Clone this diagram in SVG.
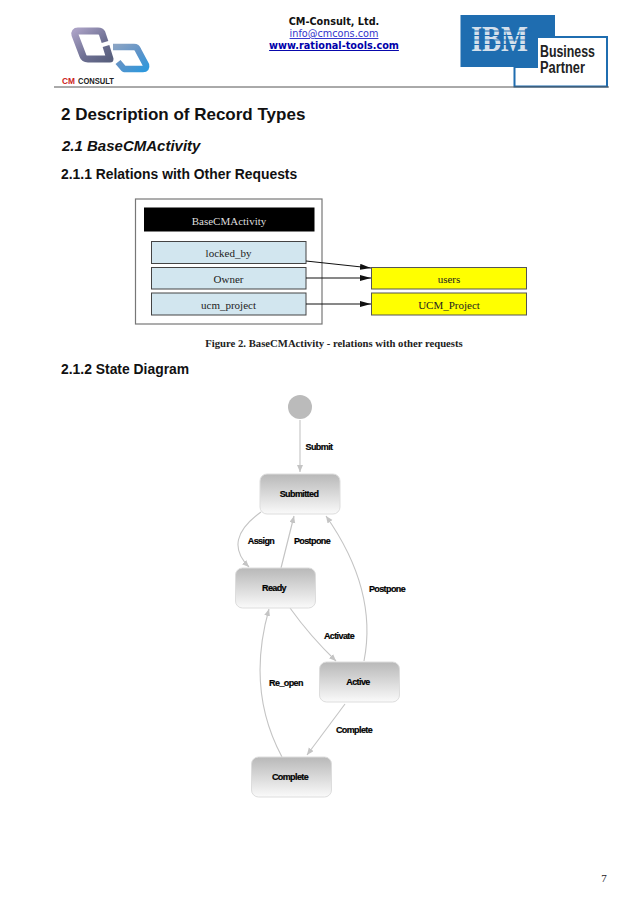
<svg xmlns="http://www.w3.org/2000/svg" width="638" height="902" viewBox="0 0 638 902">
<style>
.h{font-family:"Liberation Sans",Arial,sans-serif;font-weight:bold;fill:#111}
.hd{font-family:"DejaVu Sans",sans-serif;font-size:9.7px;text-anchor:middle}
.sf{font-family:"Liberation Serif",serif;text-anchor:middle;fill:#222;font-size:11px}
.lb{font-family:"Liberation Sans",sans-serif;font-weight:bold;font-size:9px;letter-spacing:-.6px;text-anchor:middle;fill:#000;stroke:#000;stroke-width:.2px}
.bl{fill:#d2e6ef;stroke:#444;stroke-width:1}
.ye{fill:#ffff00;stroke:#555;stroke-width:1}
.st{fill:url(#g);stroke:#ddd;stroke-width:1}
.c{fill:none;stroke:#111;stroke-width:1}
.s{fill:none;stroke:#c4c4c4;stroke-width:1.100}
</style>
<defs>
<linearGradient id="g" x1="0" y1="0" x2="0" y2="1"><stop offset="0" stop-color="#b8b8b8"/><stop offset="1" stop-color="#fafafa"/></linearGradient>
<linearGradient id="lg1" x1="0" y1="0" x2="1" y2="1"><stop offset="0" stop-color="#a9a0c4"/><stop offset=".6" stop-color="#6d6f92"/><stop offset="1" stop-color="#59607e"/></linearGradient>
<linearGradient id="lg2" x1="0" y1="0" x2="1" y2="1"><stop offset="0" stop-color="#8aa4c4"/><stop offset=".5" stop-color="#5f93c8"/><stop offset="1" stop-color="#2f98dc"/></linearGradient>
<marker id="a" markerUnits="userSpaceOnUse" markerWidth="12" markerHeight="8" refX="11" refY="3" orient="auto"><path d="M0 0L11 3L0 6z" fill="#111"/></marker>
<marker id="b" markerUnits="userSpaceOnUse" markerWidth="8" markerHeight="8" refX="7" refY="3" orient="auto"><path d="M0 0L7 3L0 6z" fill="#c4c4c4"/></marker>
</defs>
<rect width="638" height="902" fill="#fff"/>
<g id="logo-cm">
<path d="M105 42L102 33Q101 31 98 31H78Q74 31 75 35L83 56Q84 59 88 59H110L106 46" fill="none" stroke="url(#lg1)" stroke-width="7" stroke-linejoin="round"/>
<path d="M113 47H134Q137 47 138 50L146 65Q147 69 143 69H124L118 62" fill="none" stroke="url(#lg2)" stroke-width="6.500" stroke-linejoin="round"/>
<text x="62" y="84" font-family="Liberation Sans,sans-serif" font-weight="bold" font-size="9" fill="#c22" textLength="13" lengthAdjust="spacingAndGlyphs">CM</text>
<text x="78" y="84" font-family="Liberation Sans,sans-serif" font-weight="bold" font-size="9" fill="#222" textLength="36" lengthAdjust="spacingAndGlyphs">CONSULT</text>
</g>
<g id="header-text">
<text class="hd" x="334" y="25" font-weight="bold" fill="#111">CM-Consult, Ltd.</text>
<text class="hd" x="334" y="37" fill="#33c" text-decoration="underline">info@cmcons.com</text>
<text class="hd" x="334" y="49" font-weight="bold" fill="#00a" text-decoration="underline">www.rational-tools.com</text>
</g>
<g id="logo-ibm">
<rect x="460.500" y="15" width="94.500" height="52" fill="#1f6db0"/>
<text x="471" y="51" font-family="Liberation Serif,serif" font-weight="bold" font-size="36" fill="#d4e0ec" textLength="57" lengthAdjust="spacingAndGlyphs">IBM</text>
<path d="M468 31H532M468 35.500H532M468 40H532M468 44.500H532" stroke="#1f6db0" stroke-width="1.200"/>
<path d="M537 37H607V86.500H514.500V67H537Z" fill="#fff" stroke="#1f6db0" stroke-width="2"/>
<text x="540" y="57" font-family="Liberation Sans,sans-serif" font-weight="bold" font-size="16" fill="#222" textLength="55" lengthAdjust="spacingAndGlyphs">Business</text>
<text x="540" y="73" font-family="Liberation Sans,sans-serif" font-weight="bold" font-size="16" fill="#222" textLength="45" lengthAdjust="spacingAndGlyphs">Partner</text>
</g>
<line x1="54" y1="87" x2="609" y2="87" stroke="#555" stroke-width="1"/>
<g id="headings">
<text class="h" x="61" y="120" font-size="17">2 Description of Record Types</text>
<text class="h" x="62" y="151" font-size="15" font-style="italic">2.1 BaseCMActivity</text>
<text class="h" x="61" y="179" font-size="13.900">2.1.1 Relations with Other Requests</text>
<text class="h" x="61" y="374" font-size="13.900">2.1.2 State Diagram</text>
</g>
<g id="BaseCMActivity">
<rect x="135.500" y="199" width="186.500" height="125" fill="#fff" stroke="#777" stroke-width="1.200"/>
<rect x="144" y="207.500" width="170.500" height="24" fill="#000"/>
<text class="sf" x="229" y="225" style="fill:#ddd">BaseCMActivity</text>
</g>
<g id="locked_by"><rect class="bl" x="151.500" y="241.500" width="154.500" height="22"/><text class="sf" x="228.500" y="257">locked_by</text></g>
<g id="Owner"><rect class="bl" x="151.500" y="267.500" width="154.500" height="21.500"/><text class="sf" x="228.500" y="283">Owner</text></g>
<g id="ucm_project"><rect class="bl" x="151.500" y="293" width="154.500" height="22"/><text class="sf" x="228.500" y="309">ucm_project</text></g>
<g id="users"><rect class="ye" x="371.500" y="267.500" width="155" height="21.500"/><text class="sf" x="449" y="283">users</text></g>
<g id="UCM_Project"><rect class="ye" x="371.500" y="293" width="155" height="22"/><text class="sf" x="449" y="309">UCM_Project</text></g>
<g id="connectors-relations">
<line class="c" x1="306" y1="261" x2="371" y2="268" marker-end="url(#a)"/>
<line class="c" x1="306" y1="278" x2="371" y2="278" marker-end="url(#a)"/>
<line class="c" x1="306" y1="304" x2="371" y2="304" marker-end="url(#a)"/>
</g>
<text x="334" y="347" text-anchor="middle" font-family="Liberation Serif,serif" font-weight="bold" font-size="10.700" fill="#222">Figure 2. BaseCMActivity - relations with other requests</text>
<g id="connectors-states">
<path class="s" d="M300 420V472" marker-end="url(#b)"/>
<path class="s" d="M261 512Q222 540 249 567" marker-end="url(#b)"/>
<path class="s" d="M281 568L294 516" marker-end="url(#b)"/>
<path class="s" d="M364 661Q378 590 326 516" marker-end="url(#b)"/>
<path class="s" d="M290 608Q310 636 336 661" marker-end="url(#b)"/>
<path class="s" d="M345 704L307 755" marker-end="url(#b)"/>
<path class="s" d="M282 757Q246 690 269 609" marker-end="url(#b)"/>
<text class="lb" x="319" y="450">Submit</text>
<text class="lb" x="261" y="544">Assign</text>
<text class="lb" x="312" y="544">Postpone</text>
<text class="lb" x="387" y="592">Postpone</text>
<text class="lb" x="339" y="639">Activate</text>
<text class="lb" x="286" y="686">Re_open</text>
<text class="lb" x="354" y="733">Complete</text>
</g>
<g id="start"><circle cx="300" cy="407" r="12" fill="#bbb"/></g>
<g id="Submitted"><rect class="st" x="260" y="474" width="80" height="40" rx="7"/><text class="lb" x="299" y="497">Submitted</text></g>
<g id="Ready"><rect class="st" x="235.500" y="568" width="80" height="40" rx="7"/><text class="lb" x="274" y="591">Ready</text></g>
<g id="Active"><rect class="st" x="319.500" y="662" width="80" height="40" rx="7"/><text class="lb" x="358" y="685">Active</text></g>
<g id="Complete"><rect class="st" x="251.500" y="757" width="80" height="40" rx="7"/><text class="lb" x="290" y="780">Complete</text></g>
<text x="604" y="882" text-anchor="middle" font-family="Liberation Serif,serif" font-size="11" fill="#222">7</text>
</svg>
